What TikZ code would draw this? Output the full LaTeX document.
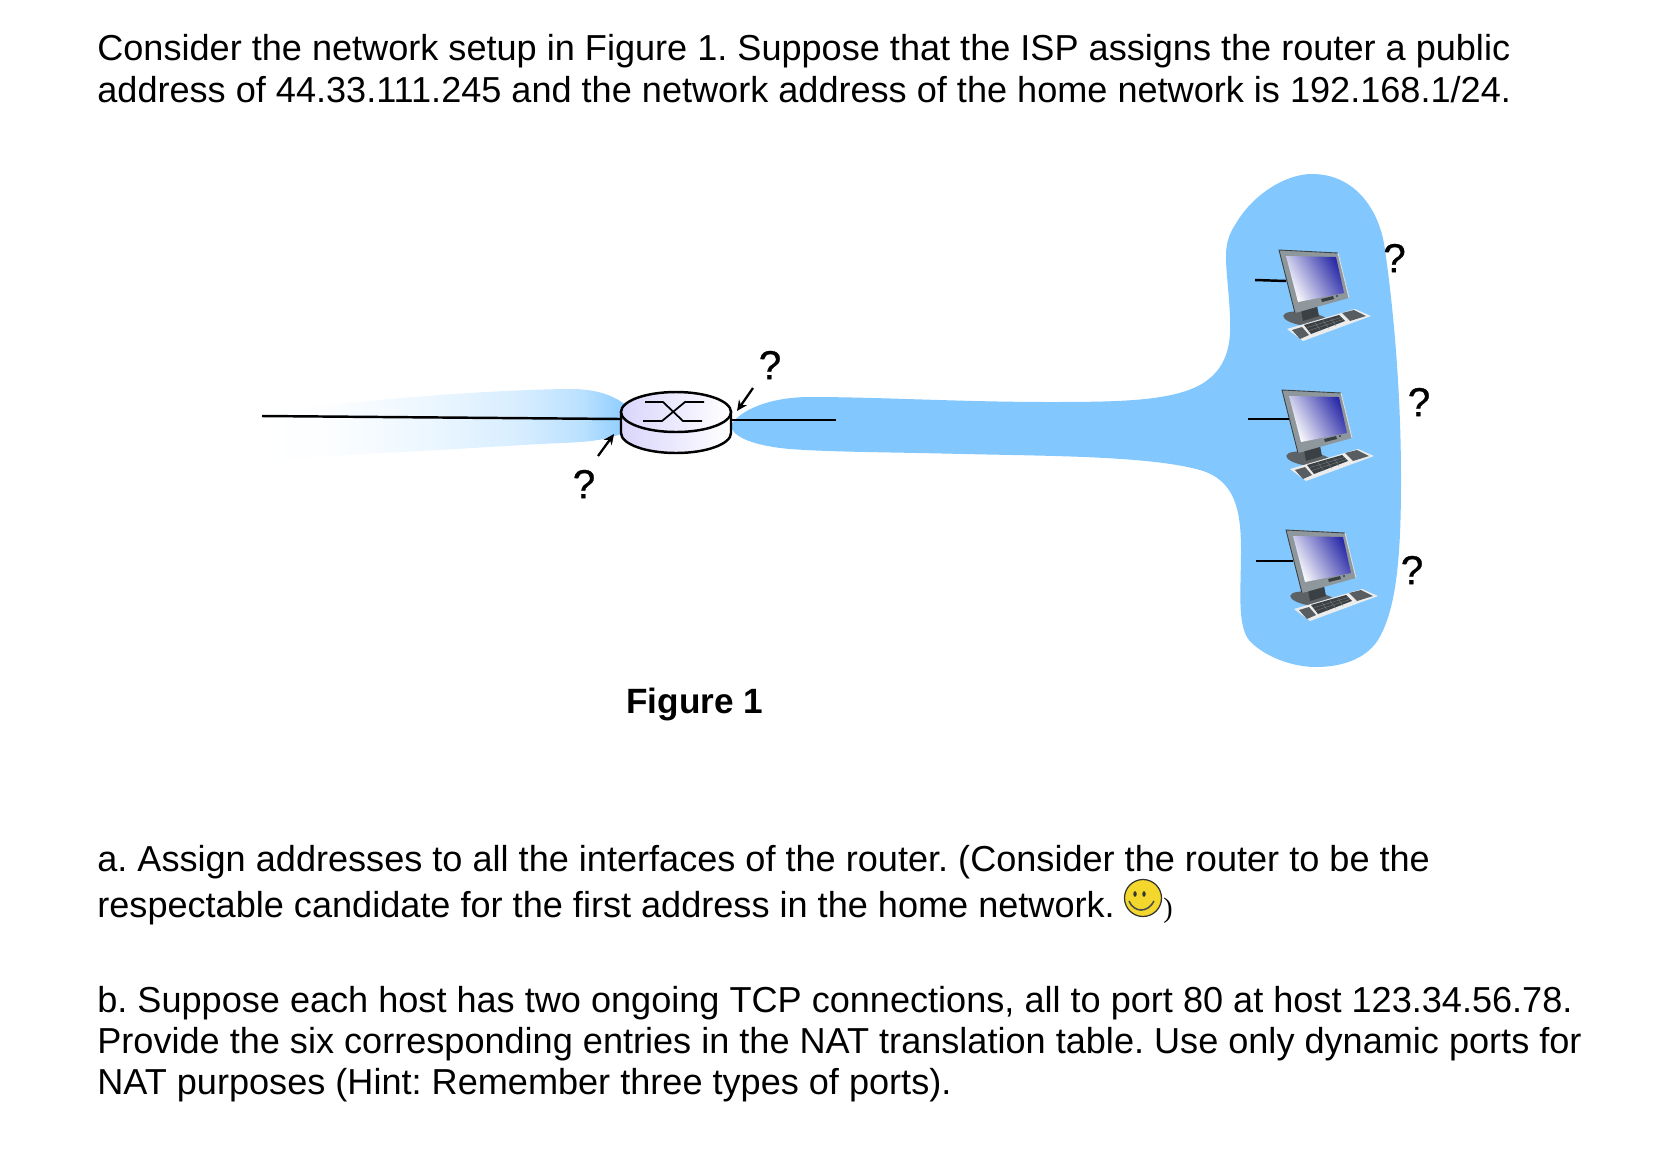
\documentclass[tikz,border=0pt]{standalone}
\usepackage{fontspec}
\setmainfont{Liberation Sans}
\newfontfamily\serifparen{Liberation Serif}
\newfontfamily\qfont[FakeBold=0.7]{Liberation Sans}
\usetikzlibrary{arrows.meta}
\definecolor{netblue}{HTML}{82C8FF}
\definecolor{routerlav}{HTML}{D9D5FB}
\definecolor{screenblue}{HTML}{2A2AA8}
\definecolor{cgray}{HTML}{8E979B}
\definecolor{cdark}{HTML}{3A4044}
\definecolor{smiley}{HTML}{F3D72C}
\pgfdeclarehorizontalshading{fadeband}{100bp}{
  color(0bp)=(white);
  color(25bp)=(white);
  color(35bp)=(netblue!3!white);
  color(47.5bp)=(netblue!15!white);
  color(60bp)=(netblue!32!white);
  color(68.5bp)=(netblue!55!white);
  color(75bp)=(netblue!95!white);
  color(100bp)=(netblue)}
\tikzset{
  bodytext/.style={anchor=base west,inner sep=0pt,font=\frenchspacing\fontsize{20.55}{24}\selectfont},
  qmark/.style={inner sep=0pt,font=\qfont\fontsize{23}{26}\selectfont},
  wire/.style={line width=1.4pt,black},
  pointer/.style={line width=1.3pt,-{Stealth[length=6pt,width=5.5pt]}},
  computer/.pic={
    \coordinate (-port) at (7,31);
    % stand
    \fill[cgray!65!black,rotate around={-8:(27,69)}] (27,69) ellipse[x radius=23,y radius=7];
    \fill[cdark] (22,60) -- (38,56) -- (40,66) -- (24,71) -- cycle;
    % monitor
    \fill[cgray] (0,0) -- (59,3) -- (70,48) -- (16,63) -- cycle;
    \draw[cdark,line width=0.5pt] (16,63) -- (0,0) -- (59,3);
    \draw[white!75!gray,line width=0.5pt] (59,3) -- (70,48);
    \shade[left color=screenblue,right color=white,shading angle=-60] (7,6) -- (57,7) -- (65,43) -- (19,52) -- cycle;
    \fill[cdark] (42,49) -- (54,46) -- (55,49) -- (43,52) -- cycle;
    \fill[cdark] (58,46) circle[radius=1.2];
    % keyboard
    \fill[white!85!gray] (8,79) -- (76,59) -- (92,66) -- (24,91) -- cycle;
    \fill[cdark!85] (13,80) -- (23,77) -- (30,85) -- (21,89) -- cycle;
    \fill[cdark] (25,75) -- (60,65) -- (66,71) -- (32,84) -- cycle;
    \fill[cdark!85] (63,63) -- (75,60) -- (87,66) -- (71,71) -- cycle;
    \draw[gray,line width=0.2pt] (28,77.5) -- (62,67.5) (30,80.5) -- (64,69.5);
    \draw[gray,line width=0.2pt] (36,73) -- (42,81) (44,70.5) -- (50,78.5) (52,68) -- (57,76);
  }
}
\begin{document}
\begin{tikzpicture}[x=0.02cm,y=-0.02cm]
\useasboundingbox (0,0) rectangle (1680,1164);
\fill[white] (0,0) rectangle (1680,1164);

% text
\node[bodytext] (t1) at (97,60) {Consider the network setup in Figure 1. Suppose that the ISP assigns the router a public};
\node[bodytext] (t2) at (97,102) {address of 44.33.111.245 and the network address of the home network is 192.168.1/24.};
\node[bodytext] (t3) at (97,871) {a. Assign addresses to all the interfaces of the router. (Consider the router to be the};
\node[bodytext] (t4) at (97,917) {respectable candidate for the first address in the home network.};
\node[bodytext] (t5) at (97,1012) {b. Suppose each host has two ongoing TCP connections, all to port 80 at host 123.34.56.78.};
\node[bodytext] (t6) at (97,1053) {Provide the six corresponding entries in the NAT translation table. Use only dynamic ports for};
\node[bodytext] (t7) at (97,1094) {NAT purposes (Hint: Remember three types of ports).};
\node[anchor=base west,inner sep=0pt,font=\bfseries\fontsize{20}{24}\selectfont] (fig) at (626,713) {Figure 1};

% left fading band
\shade[shading=fadeband]
  (262,414) .. controls (350,400) and (500,389) .. (575,389)
  .. controls (600,390) and (615,396) .. (630,408)
  -- (630,430) .. controls (610,440) and (590,442) .. (560,443)
  .. controls (500,446) and (430,451) .. (380,453)
  .. controls (340,455) and (300,458) .. (262,462) -- cycle;

% home network cloud
\fill[netblue] (1312,174)
  .. controls (1355,174) and (1380,210) .. (1385,250)
  .. controls (1395,320) and (1401,400) .. (1401,480)
  .. controls (1401,560) and (1396,610) .. (1378,640)
  .. controls (1365,660) and (1340,667) .. (1316,667)
  .. controls (1290,667) and (1262,655) .. (1249,640)
  .. controls (1237,625) and (1241,590) .. (1241,550)
  .. controls (1241,510) and (1235,480) .. (1200,470)
  .. controls (1150,456) and (1050,456) .. (964,454)
  .. controls (880,452) and (830,452) .. (790,449)
  .. controls (755,446) and (731,437) .. (731,425)
  .. controls (740,410) and (770,397) .. (810,397)
  .. controls (880,397) and (960,402) .. (1050,402)
  .. controls (1120,402) and (1170,401) .. (1200,385)
  .. controls (1235,365) and (1231,330) .. (1229,300)
  .. controls (1226,260) and (1222,245) .. (1235,225)
  .. controls (1252,195) and (1285,174) .. (1312,174) -- cycle;

% router
\coordinate (rleft) at (621,419);
\coordinate (rright) at (731,420);
\coordinate (leftend) at (262,416);
\coordinate (rightend) at (836,420);
\draw[wire] (leftend) -- (rleft);
\draw[wire] (rright) -- (rightend);
\draw[line width=1.4pt,left color=routerlav,right color=white]
  (621,412) -- (621,433) arc[start angle=180,end angle=0,x radius=55,y radius=20] -- (731,412) -- cycle;
\draw[line width=1.4pt,left color=routerlav,right color=white]
  (676,412) ellipse[x radius=55,y radius=20];
\draw[line width=1pt] (645,402) -- (663,402) -- (683,421) -- (702,421);
\draw[line width=1pt] (704,402) -- (685,402) -- (662,421) -- (643,421);
\coordinate (rlefttip) at (614,434);
\coordinate (rrighttip) at (737,411);
\coordinate (qltail) at (598,456);
\coordinate (qrtail) at (753,388);
\draw[pointer] (qltail) -- (rlefttip);
\draw[pointer] (qrtail) -- (rrighttip);

% computers
\pic (c1) at (1279,250) {computer};
\pic (c2) at (1282,390) {computer};
\pic (c3) at (1286,530) {computer};
\coordinate (w1) at (1255,280);
\coordinate (w2) at (1248,419);
\coordinate (w3) at (1256,561);
\draw[wire] (w1) -- (c1-port);
\draw[wire] (w2) -- (w2 -| c2-port);
\draw[wire] (w3) -- (w3 -| c3-port);

% question marks
\node[qmark] (q1) at (1394.5,258) {?};
\node[qmark] (q2) at (1419,402) {?};
\node[qmark] (q3) at (1412,570) {?};
\node[qmark] (q4) at (770,365) {?};
\node[qmark] (q5) at (584,484) {?};

% smiley
\fill[smiley,draw=black!80,line width=0.7pt] (1143,898) circle[radius=18.5];
\fill[black!80] (1135,894) ellipse[x radius=1.7,y radius=2.8];
\fill[black!80] (1144,894) ellipse[x radius=1.7,y radius=2.8];
\draw[black!70,line width=0.9pt] (1129,901) .. controls (1134,913) and (1148,913) .. (1154,901);
\node[anchor=base west,inner sep=0pt,font=\serifparen\fontsize{16}{18}\selectfont] (paren) at (1163,917) {)};
\end{tikzpicture}
\end{document}
